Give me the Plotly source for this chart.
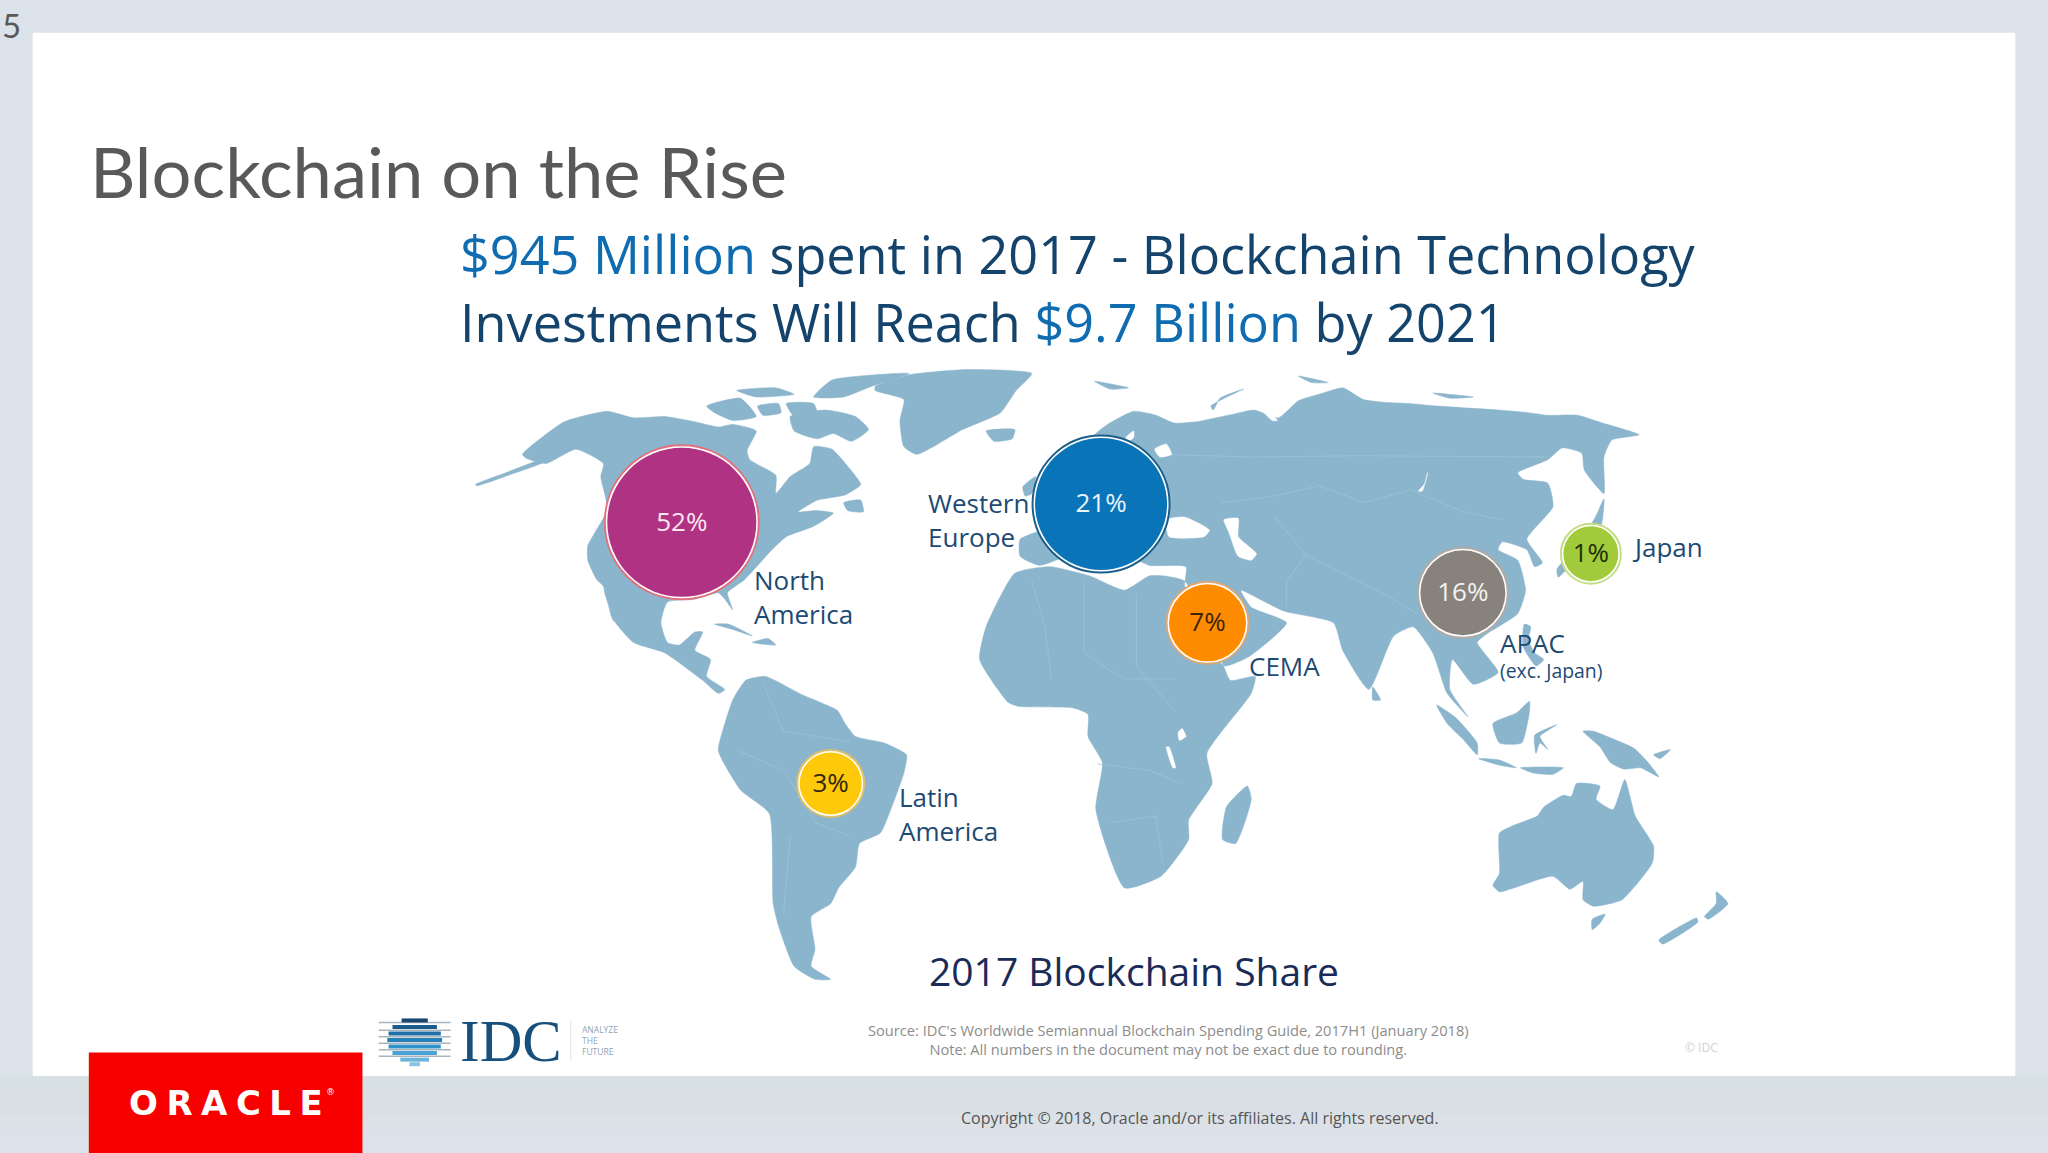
import plotly.graph_objects as go

# slide coordinates, y grows downwards
W, H = 1568, 883

# ==== bubble data ====
REGIONS = ["North America", "Western Europe", "APAC", "CEMA", "Latin America", "Japan"]
SHARES = [52, 21, 16, 7, 3, 1]
BUBBLE_X = [522, 843, 1120, 924.5, 636, 1218]
BUBBLE_Y = [400, 386, 454, 477, 600, 424]
BUBBLE_D = [154, 137, 90, 82, 67, 60]
BUBBLE_FILL = ["#b03282", "#0a74b8", "#87827c", "#ff8c00", "#fdc90a", "#a1cb3a"]
BUBBLE_RING = ["#e2707f", "#1b5f8c", "#aeaba6", "#d9a878", "#dcc06c", "#c4dd85"]
BUBBLE_TEXT = ["#fbe6f2", "#e8f4fb", "#f2f2f0", "#3d2408", "#33280a", "#1f3008"]

# ==== map outlines ====
NORTH_AMERICA = [(400,348),(406,342),(432,323),(465,315),(485,320),(509,319),(532,323),(550,327),(561,325),(579,330),
    (572,345),(574,352),(594,364),(594,378),(605,365),(620,355),(623,342),(637,344),(649,357),(659,371),(647,379),
    (626,383),(611,392),(625,391),(638,393),(623,403),(602,411),(591,421),(582,431),(570,444),(557,454),(561,467),
    (555,459),(550,454),(532,459),(511,461),(506,477),(511,492),(520,494),(532,484),(538,484),(532,498),(544,505),
    (541,518),(555,528),(550,531),(538,521),(509,500),(485,492),(470,475),(462,449),(457,444),(450,429),(450,418),
    (465,390),(460,365),(462,355),(441,344),(418,355),(403,351)]
ALEUTIANS = [(364,371),(390,361),(415,352),(416,354),(392,363),(365,372)]
BAJA = [(462,445),(468,472),(470,476),(463,454)]
VICTORIA_IS = [(541,311),(567,305),(579,319),(561,322),(547,316)]
BAFFIN = [(605,319),(632,314),(655,319),(665,329),(652,338),(638,332),(626,336),(608,330)]
ELLESMERE = [(623,304),(637,291),(696,286),(667,296),(646,304)]
ARCTIC_A = [(564,299),(594,297),(608,302),(579,304)]
ARCTIC_B = [(602,309),(623,309),(626,319),(608,319)]
ARCTIC_C = [(580,311),(596,309),(598,316),(584,318)]
NEWFOUNDLAND = [(646,385),(659,383),(661,392),(649,391)]
CUBA = [(547,478),(558,478),(576,487),(561,482)]
HISPANIOLA = [(576,492),(588,489),(594,494)]
GREENLAND = [(670,296),(696,287),(740,283),(790,286),(778,299),(766,316),(737,329),(702,348),(692,342),(689,322),(692,306),(670,299)]
ICELAND = [(755,330),(777,329),(775,336),(761,338)]
SVALBARD = [(838,292),(864,297),(850,298)]
FRANZ_JOSEF = [(994,288),(1017,293),(1004,293)]
NOVAYA_ZEMLYA = [(927,311),(952,298),(934,305),(929,314)]
NEW_SIBERIAN = [(1097,301),(1128,304),(1110,305)]
BRITAIN = [(783,373),(793,365),(790,378),(785,380)]
SOUTH_AMERICA = [(571,521),(586,518),(614,532),(641,544),(647,554),(655,564),(677,569),(694,578),(692,592),(682,620),
    (674,638),(658,646),(655,664),(642,680),(636,692),(621,702),(624,727),(621,740),(636,750),(624,750),(608,740),
    (596,709),(592,692),(589,623),(567,605),(550,575),(555,554),(561,536)]
AFRICA = [(804,434),(777,439),(755,480),(750,505),(772,538),(780,541),(821,542),(833,547),(833,564),(844,584),(839,620),
    (861,680),(889,671),(910,643),(910,628),(928,600),(924,577),(958,531),(961,518),(942,521),(936,508),(925,480),
    (907,445),(891,441),(880,441),(861,452),(834,441)]
MADAGASCAR = [(955,602),(958,612),(946,646),(936,643),(939,618)]
EURASIA = [(838,333),(848,325),(868,315),(885,318),(899,324),(916,323),(926,321),(945,317),(960,314),(979,320),(994,307),
    (1013,301),(1028,297),(1044,306),(1059,308),(1078,309),(1101,311),(1147,314),(1170,316),(1185,318),(1208,318),
    (1227,324),(1255,333),(1234,337),(1228,350),(1228,378),(1213,360),(1211,347),(1196,343),(1185,352),(1162,362),
    (1166,367),(1185,370),(1189,388),(1169,413),(1181,431),(1175,434),(1169,421),(1150,415),(1147,421),(1162,429),
    (1168,452),(1162,470),(1139,485),(1131,492),(1147,515),(1128,524),(1112,505),(1110,528),(1124,549),(1108,531),
    (1097,500),(1082,480),(1067,487),(1048,528),(1028,498),(1021,477),(983,468),(950,452),(958,465),(985,477),(956,503),
    (937,510),(918,480),(907,449),(908,434),(880,433),(868,428),(850,425),(820,425),(796,433),(781,426),(781,413),
    (800,405),(815,395),(808,380)]
JAPAN = [(1228,382),(1226,402),(1205,430),(1193,442),(1192,436),(1210,415),(1222,395)]
SRI_LANKA = [(1051,526),(1057,536),(1051,536)]
PHILIPPINES = [(1167,478),(1172,480),(1170,490),(1175,500),(1182,505),(1176,510),(1166,495)]
SUMATRA = [(1100,540),(1115,550),(1131,569),(1131,578),(1120,566),(1108,554)]
JAVA = [(1132,581),(1148,582),(1161,588),(1148,586)]
SUNDA = [(1164,588),(1197,588),(1189,593),(1174,592)]
BORNEO = [(1143,554),(1161,546),(1171,537),(1171,545),(1165,569),(1148,569)]
SULAWESI = [(1175,563),(1192,555),(1179,564),(1185,574),(1179,569),(1176,577)]
NEW_GUINEA = [(1212,560),(1220,560),(1233,565),(1251,573),(1261,583),(1270,595),(1256,588),(1243,589),(1233,584),(1225,572)]
NEW_BRITAIN = [(1266,578),(1279,574),(1271,581)]
AUSTRALIA = [(1148,638),(1159,632),(1177,625),(1182,618),(1197,609),(1203,610),(1207,600),(1225,602),(1222,612),(1235,620),
    (1244,597),(1252,625),(1266,648),(1265,661),(1242,689),(1220,694),(1212,689),(1212,675),(1202,681),(1189,671),
    (1159,680),(1148,683),(1143,678),(1148,669)]
TASMANIA = [(1219,704),(1229,700),(1225,707),(1219,712)]
NZ_SOUTH = [(1270,720),(1299,703),(1300,706),(1273,723)]
NZ_NORTH = [(1305,702),(1314,692),(1314,683),(1323,692),(1308,704)]

LAND = [NORTH_AMERICA, ALEUTIANS, BAJA, VICTORIA_IS, BAFFIN, ELLESMERE, ARCTIC_A, ARCTIC_B, ARCTIC_C, NEWFOUNDLAND, CUBA,
        HISPANIOLA, GREENLAND, ICELAND, SVALBARD, FRANZ_JOSEF, NOVAYA_ZEMLYA, NEW_SIBERIAN, BRITAIN, SOUTH_AMERICA, AFRICA,
        MADAGASCAR, EURASIA, JAPAN, SRI_LANKA, PHILIPPINES, SUMATRA, JAVA, SUNDA, BORNEO, SULAWESI, NEW_GUINEA,
        NEW_BRITAIN, AUSTRALIA, TASMANIA, NZ_SOUTH, NZ_NORTH]

# lakes and inner seas, white on top of the land
CASPIAN = [(937,398),(948,397),(948,411),(962,424),(958,429),(948,426),(941,408)]
BLACK_SEA = [(893,398),(907,396),(926,406),(922,411),(895,411)]
BAIKAL = [(1093,362),(1089,376),(1086,376),(1091,370)]
VICTORIA_LAKE = [(905,558),(908,564),(903,567),(902,561)]
TANGANYIKA = [(893,572),(895,572),(900,588),(898,588)]
BOTHNIA = [(862,335),(868,330),(868,335),(864,338)]
BALTIC = [(884,344),(893,340),(897,348),(888,350)]
OB_GULF = [(961,308),(966,310),(978,322),(974,322)]
WATER = [CASPIAN, BLACK_SEA, BAIKAL, VICTORIA_LAKE, TANGANYIKA, BOTHNIA, BALTIC, OB_GULF]

# faint country borders
BORDERS = [
    [(888,348),(960,350),(1040,349),(1185,350)],
    [(935,385),(975,380),(1010,372),(1045,385),(1080,375),(1120,392),(1150,398)],
    [(975,395),(1000,425),(1030,440),(1060,455),(1085,470)],
    [(1000,425),(985,445),(985,465)],
    [(790,445),(800,480),(805,520)],
    [(830,445),(830,500),(860,520),(900,520)],
    [(870,455),(870,510),(900,545)],
    [(840,585),(880,590),(905,600)],
    [(850,630),(885,625),(890,660)],
    [(585,525),(600,560),(650,568)],
    [(565,575),(600,590),(625,630),(650,640)],
    [(605,640),(600,700)],
]

# IDC logo pieces
GLOBE_BAND_Y = [781.5, 786.5, 791.5, 796.5, 801.5, 806.5, 811.5, 815]
GLOBE_BAND_HALF = [10, 17, 20, 21, 20, 17, 11, 4]
GLOBE_BAND_COLOR = ["#14466f", "#1a5a8c", "#1f6ea8", "#2580b8", "#2f92c8", "#4aa3d4", "#6db5dc", "#8ac4e2"]
GLOBE_GRID_Y = [783, 789, 794, 799, 804, 809]

# bottom band fades from a greener grey into the slide background
BAND_TOPS = [824, 834, 844, 854]
BAND_BOTTOMS = [834, 844, 854, 866]
BAND_COLORS = ["#d7e0e2", "#d8e0e3", "#d9e0e5", "#dbe1e7"]


def ring(points):
    xs = [p[0] for p in points] + [points[0][0], None]
    ys = [p[1] for p in points] + [points[0][1], None]
    return xs, ys


def merged(shapes_list):
    all_x, all_y = [], []
    for pts in shapes_list:
        xs, ys = ring(pts)
        all_x += xs
        all_y += ys
    return all_x, all_y


fig = go.Figure()

land_x, land_y = merged(LAND)
fig.add_trace(go.Scatter(x=land_x, y=land_y, mode="lines", fill="toself", fillcolor="#8ab5cc",
                         line=dict(color="#8ab5cc", width=0.5, shape="spline", smoothing=0.5), hoverinfo="skip"))

border_x, border_y = [], []
for b in BORDERS:
    border_x += [p[0] for p in b] + [None]
    border_y += [p[1] for p in b] + [None]
fig.add_trace(go.Scatter(x=border_x, y=border_y, mode="lines", line=dict(color="#9fc3d6", width=0.8), hoverinfo="skip"))

water_x, water_y = merged(WATER)
fig.add_trace(go.Scatter(x=water_x, y=water_y, mode="lines", fill="toself", fillcolor="#ffffff",
                         line=dict(color="#ffffff", width=0.5, shape="spline", smoothing=0.5), hoverinfo="skip"))

# bubbles: ring, white gap, fill, then the share as text
fig.add_trace(go.Scatter(x=BUBBLE_X, y=BUBBLE_Y, mode="markers", hoverinfo="skip",
                         marker=dict(size=BUBBLE_D, color="#ffffff", opacity=1,
                                     line=dict(color=BUBBLE_RING, width=2))))
fig.add_trace(go.Scatter(x=BUBBLE_X, y=BUBBLE_Y, mode="markers", customdata=REGIONS,
                         hovertemplate="%{customdata}<extra></extra>",
                         marker=dict(size=[d - 5 for d in BUBBLE_D], color=BUBBLE_FILL, opacity=1, line=dict(width=0))))
fig.add_trace(go.Scatter(x=BUBBLE_X, y=[y + 1.5 for y in BUBBLE_Y], mode="text", hoverinfo="skip",
                         text=[f"{s}%" for s in SHARES], textposition="middle center",
                         textfont=dict(family="Open Sans", size=26, color=BUBBLE_TEXT)))

# IDC globe
grid_x, grid_y = [], []
for y in GLOBE_GRID_Y:
    grid_x += [290, 345, None]
    grid_y += [y, y, None]
fig.add_trace(go.Scatter(x=grid_x, y=grid_y, mode="lines", line=dict(color="#a9b4bc", width=1.5), hoverinfo="skip"))
for y, half, col in zip(GLOBE_BAND_Y, GLOBE_BAND_HALF, GLOBE_BAND_COLOR):
    fig.add_trace(go.Scatter(x=[317.5 - half, 317.5 + half], y=[y, y], mode="lines",
                             line=dict(color=col, width=4), hoverinfo="skip"))
fig.add_trace(go.Scatter(x=[437, 437], y=[781, 813], mode="lines", line=dict(color="#dfe5ea", width=1), hoverinfo="skip"))

# ==== slide chrome ====
shapes = [dict(type="rect", x0=25, x1=1543, y0=25, y1=824, fillcolor="#ffffff", line_width=0, layer="below")]
for top, bottom, col in zip(BAND_TOPS, BAND_BOTTOMS, BAND_COLORS):
    shapes.append(dict(type="rect", x0=0, x1=W, y0=top, y1=bottom, fillcolor=col, line_width=0, layer="below"))
shapes.append(dict(type="rect", x0=68, x1=277.5, y0=806, y1=H, fillcolor="#f80000", line_width=0, layer="below"))


def label(text, x, y, size, color, family="Open Sans", anchor="left", weight=None):
    font = dict(family=family, size=size, color=color)
    if weight:
        font["weight"] = weight
    return dict(text=text, x=x, y=y, xref="x", yref="y", showarrow=False, xanchor=anchor, yanchor="middle",
                align=anchor, font=font)


NAVY = "#1d4a73"
BLUE = "#0f6cb0"
HEAD = "#14436c"
annotations = [
    label("5", 0, 19, 33, "#595959", "Lato"),
    label("Blockchain on the Rise", 67, 130.5, 70.5, "#595959", "Lato"),
    label(f'<span style="color:{BLUE}">$945 Million</span> spent in 2017 - Blockchain Technology<br>'
          f'Investments Will Reach <span style="color:{BLUE}">$9.7 Billion</span> by 2021', 351, 220, 52.2, HEAD),
    label("North<br>America", 576, 457, 26, NAVY),
    label("Western<br>Europe", 709, 398, 26, NAVY),
    label("CEMA", 955, 510, 26, NAVY),
    label('<span style="font-size:26px">APAC</span><br>(exc. Japan)', 1147, 501, 19.4, NAVY),
    label("Japan", 1248, 419, 26, NAVY),
    label("Latin<br>America", 687, 623, 26, NAVY),
    label("2017 Blockchain Share", 710, 743, 39, "#1b2b58"),
    label("Source: IDC's Worldwide Semiannual Blockchain Spending Guide, 2017H1 (January 2018)<br>"
          "Note: All numbers in the document may not be exact due to rounding.", 895, 796, 14.65, "#8c8c8c", anchor="center"),
    label("© IDC", 1303, 802, 12, "#d2d2d2", anchor="center"),
    label("Copyright © 2018, Oracle and/or its affiliates. All rights reserved.", 919, 856, 16, "#555555", anchor="center"),
    label("O\u2005R\u2005A\u2005C\u2005L\u2005E", 173, 845, 34, "#ffffff", "DejaVu Sans", anchor="center", weight=700),
    label("®", 253, 836, 9, "#ffffff", "DejaVu Sans", anchor="center"),
    label("IDC", 351, 797, 59, "#17507d", "Liberation Serif"),
    label("ANALYZE<br>THE<br>FUTURE", 444, 796.5, 8.5, "#8fa3b3"),
]

fig.update_layout(
    width=2048,
    height=1153,
    margin=dict(l=0, r=0, t=0, b=0),
    paper_bgcolor="#dce2e9",
    plot_bgcolor="rgba(0,0,0,0)",
    showlegend=False,
    shapes=shapes,
    annotations=annotations,
    xaxis=dict(range=[0, W], visible=False, fixedrange=True),
    yaxis=dict(range=[H, 0], visible=False, fixedrange=True),
)

fig.write_html("out.html", config={"displayModeBar": False},
               post_script="document.body.style.margin='0';")
